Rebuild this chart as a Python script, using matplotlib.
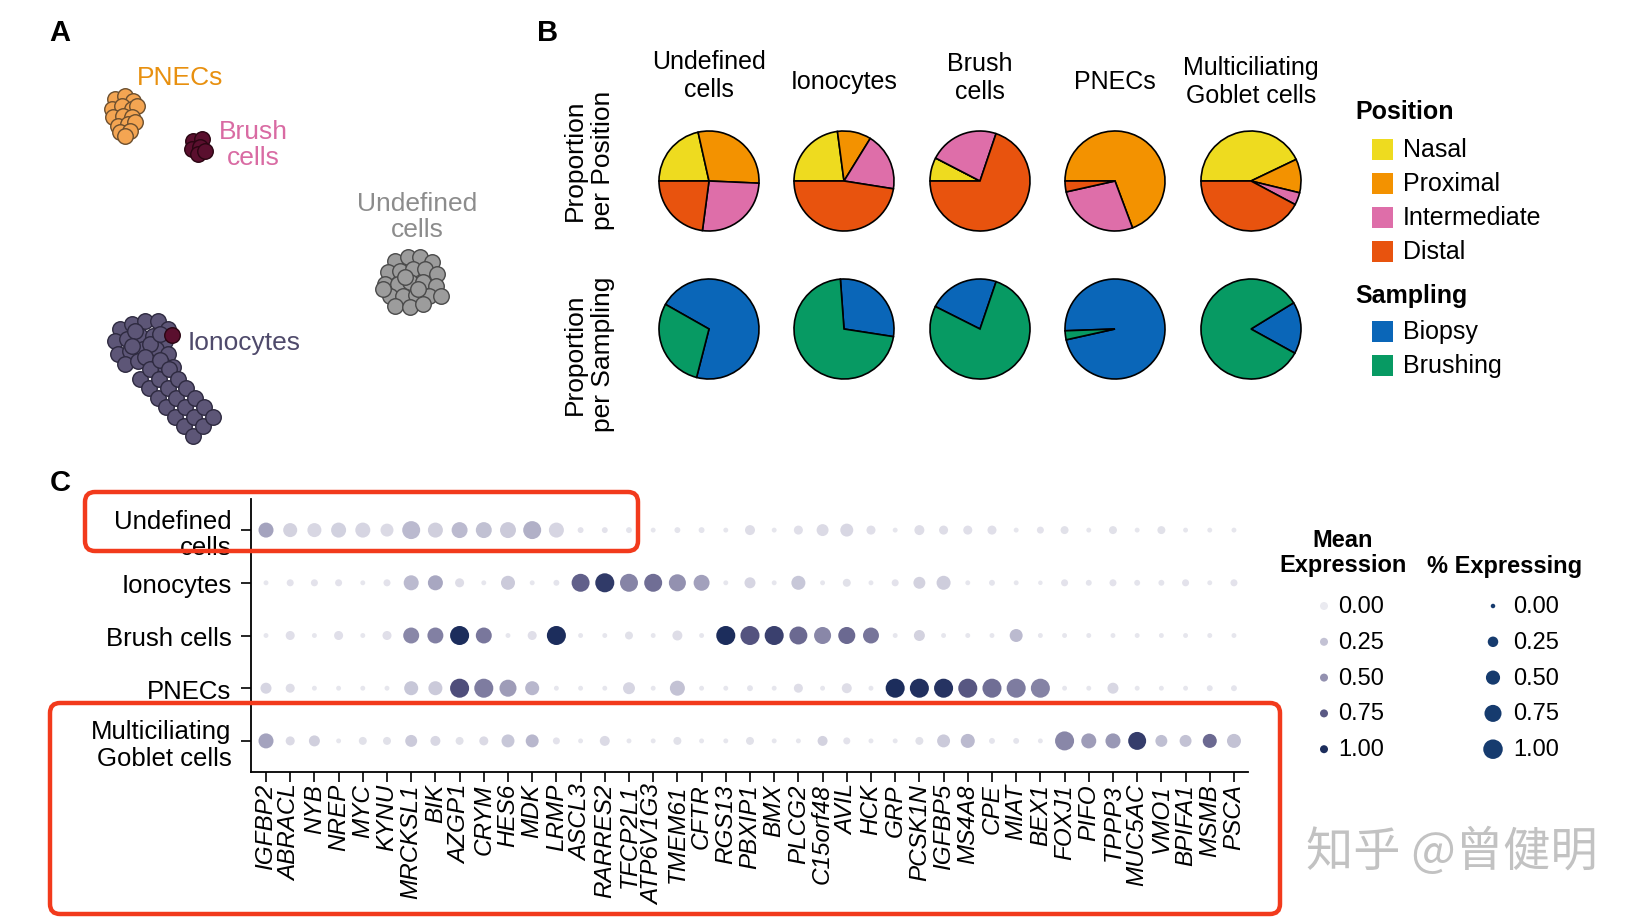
import numpy as np
import matplotlib
matplotlib.use("Agg")
import matplotlib.pyplot as plt
from matplotlib.colors import LinearSegmentedColormap, Normalize
from matplotlib.patches import FancyBboxPatch, Rectangle

plt.rcParams['font.family'] = ['Liberation Sans', 'DejaVu Sans']

W, H = 1648, 920

# ---------------- Panel A data (embedding coordinates) ----------------
pnec_x = [25, 35, 43, 22, 32, 42, 47, 23, 33, 42, 28, 38, 45, 30, 40, 35]
pnec_y = [340, 343, 338, 330, 333, 330, 333, 322, 323, 322, 313, 315, 317, 307, 308, 303]
brush_x = [103, 112, 102, 110, 108, 115, 82]
brush_y = [298, 300, 290, 292, 285, 288, 104]
undef_x = [305, 318, 330, 342, 298, 310, 323, 335, 347, 295, 308, 320, 333, 346, 300, 313, 326, 339,
           305, 320, 333, 293, 351, 315, 328]
undef_y = [178, 182, 182, 177, 167, 168, 170, 170, 165, 155, 155, 157, 157, 153, 143, 143, 144, 143,
           133, 132, 135, 150, 143, 162, 150]
iono_x = [30, 42, 55, 68, 78, 25, 37, 50, 63, 75, 28, 40, 53, 66, 78, 35, 48, 60, 72, 83,
          45, 60, 70, 55, 42,
          50, 60, 70, 59, 69, 79, 68, 78, 88, 76, 86, 96, 85, 95, 105, 94, 104, 114, 103, 113, 123]
iono_y = [110, 115, 118, 118, 110, 98, 100, 103, 103, 98, 85, 88, 90, 90, 85, 75, 78, 77, 75, 72,
          108, 95, 105, 82, 93,
          60, 70, 79, 51, 60, 70, 41, 51, 60, 32, 41, 51, 22, 32, 41, 13, 22, 32, 3, 13, 22]

# ---------------- Panel B data ----------------
cell_types = ["Undefined\ncells", "Ionocytes", "Brush\ncells", "PNECs", "Multiciliating\nGoblet cells"]
positions = ["Nasal", "Proximal", "Intermediate", "Distal"]
position_pct = [
    [21.5, 29.2, 26.4, 22.9],
    [22.9, 10.9, 18.7, 47.5],
    [7.6, 0.0, 22.6, 69.8],
    [0.0, 69.3, 27.2, 3.5],
    [42.9, 10.9, 4.0, 42.2],
]
samplings = ["Biopsy", "Brushing"]
biopsy_pct = [70.8, 28.6, 22.8, 97.1, 16.8]
biopsy_start_deg = [-104.4, -8.8, 71.2, -167.5, -28.9]

pos_colors = ['#EEDB1F', '#F39200', '#DE6EA9', '#E8530E']
samp_colors = ['#0A66B8', '#079A63']

# ---------------- Panel C data ----------------
row_labels = ["Undefined\ncells", "Ionocytes", "Brush cells", "PNECs", "Multiciliating\nGoblet cells"]
genes = ["IGFBP2", "ABRACL", "NYB", "NREP", "MYC", "KYNU", "MRCKSL1", "BIK", "AZGP1", "CRYM",
         "HES6", "MDK", "LRMP", "ASCL3", "RARRES2", "TFCP2L1", "ATP6V1G3", "TMEM61", "CFTR",
         "RGS13", "PBXIP1", "BMX", "PLCG2", "C15orf48", "AVIL", "HCK", "GRP", "PCSK1N", "IGFBP5",
         "MS4A8", "CPE", "MIAT", "BEX1", "FOXJ1", "PIFO", "TPPP3", "MUC5AC", "VMO1", "BPIFA1",
         "MSMB", "PSCA"]

pct_undef = [0.57, 0.49, 0.49, 0.57, 0.57, 0.41, 0.84, 0.57, 0.65, 0.65, 0.65, 0.84, 0.57, 0.04, 0.04,
             0.04, 0.01, 0.04, 0.04, 0.01, 0.22, 0.01, 0.17, 0.34, 0.41, 0.17, 0.01, 0.22, 0.17, 0.17,
             0.17, 0.01, 0.08, 0.12, 0.01, 0.12, 0.01, 0.12, 0.01, 0.01, 0.01]
pct_iono = [0.01, 0.08, 0.08, 0.08, 0.01, 0.08, 0.57, 0.57, 0.17, 0.01, 0.49, 0.01, 0.04, 0.84, 0.95,
            0.84, 0.84, 0.75, 0.65, 0.01, 0.28, 0.01, 0.49, 0.01, 0.12, 0.01, 0.08, 0.34, 0.49, 0.01,
            0.04, 0.01, 0.0, 0.08, 0.04, 0.08, 0.04, 0.04, 0.08, 0.01, 0.08]
pct_brush = [0.01, 0.17, 0.01, 0.17, 0.01, 0.17, 0.65, 0.65, 0.95, 0.65, 0.01, 0.17, 0.95, 0.01, 0.01,
             0.12, 0.01, 0.22, 0.01, 0.95, 0.95, 0.95, 0.84, 0.75, 0.75, 0.65, 0.01, 0.28, 0.01, 0.01,
             0.01, 0.41, 0.01, 0.01, 0.01, 0.01, 0.01, 0.01, 0.01, 0.01, 0.01]
pct_pnec = [0.28, 0.17, 0.01, 0.01, 0.01, 0.01, 0.49, 0.49, 0.95, 0.95, 0.75, 0.49, 0.01, 0.01, 0.01,
            0.34, 0.01, 0.57, 0.01, 0.01, 0.04, 0.01, 0.17, 0.01, 0.22, 0.01, 0.95, 0.95, 0.95, 0.95,
            0.95, 0.95, 0.95, 0.01, 0.01, 0.28, 0.01, 0.01, 0.01, 0.04, 0.04]
pct_multi = [0.57, 0.17, 0.28, 0.01, 0.12, 0.12, 0.34, 0.22, 0.12, 0.17, 0.41, 0.41, 0.08, 0.01, 0.22,
             0.01, 0.01, 0.12, 0.01, 0.01, 0.12, 0.01, 0.01, 0.22, 0.08, 0.01, 0.01, 0.12, 0.41, 0.49,
             0.04, 0.04, 0.01, 0.95, 0.57, 0.57, 0.84, 0.34, 0.34, 0.49, 0.49]

expr_undef = [0.42, 0.15, 0.12, 0.16, 0.13, 0.10, 0.30, 0.17, 0.30, 0.26, 0.20, 0.36, 0.13, 0.05, 0.05,
              0.04, 0.03, 0.04, 0.04, 0.03, 0.08, 0.03, 0.07, 0.10, 0.12, 0.07, 0.03, 0.08, 0.08, 0.07,
              0.07, 0.03, 0.05, 0.06, 0.03, 0.06, 0.03, 0.06, 0.03, 0.03, 0.03]
expr_iono = [0.03, 0.05, 0.05, 0.05, 0.03, 0.05, 0.30, 0.40, 0.08, 0.03, 0.20, 0.03, 0.04, 0.72, 0.92,
             0.56, 0.66, 0.50, 0.43, 0.03, 0.13, 0.03, 0.22, 0.03, 0.06, 0.03, 0.05, 0.15, 0.18, 0.03,
             0.04, 0.03, 0.02, 0.05, 0.04, 0.05, 0.04, 0.04, 0.05, 0.03, 0.05]
expr_brush = [0.03, 0.07, 0.03, 0.07, 0.03, 0.07, 0.55, 0.58, 1.00, 0.62, 0.03, 0.07, 1.00, 0.03, 0.03,
              0.06, 0.03, 0.08, 0.03, 1.00, 0.78, 0.88, 0.68, 0.55, 0.68, 0.63, 0.03, 0.15, 0.03, 0.03,
              0.03, 0.30, 0.03, 0.03, 0.03, 0.03, 0.03, 0.03, 0.03, 0.03, 0.03]
expr_pnec = [0.13, 0.08, 0.03, 0.03, 0.03, 0.03, 0.22, 0.20, 0.80, 0.60, 0.45, 0.32, 0.03, 0.03, 0.03,
             0.13, 0.03, 0.25, 0.03, 0.03, 0.04, 0.03, 0.08, 0.03, 0.08, 0.03, 1.00, 0.98, 0.96, 0.76,
             0.66, 0.60, 0.57, 0.03, 0.03, 0.12, 0.03, 0.03, 0.03, 0.04, 0.04]
expr_multi = [0.42, 0.10, 0.17, 0.03, 0.06, 0.06, 0.20, 0.12, 0.06, 0.10, 0.22, 0.32, 0.05, 0.03, 0.10,
              0.03, 0.03, 0.06, 0.03, 0.03, 0.06, 0.03, 0.03, 0.15, 0.05, 0.03, 0.03, 0.06, 0.20, 0.30,
              0.04, 0.04, 0.03, 0.55, 0.45, 0.47, 0.90, 0.27, 0.25, 0.68, 0.25]

legend_values = [0.00, 0.25, 0.50, 0.75, 1.00]

pct_rows = [pct_undef, pct_iono, pct_brush, pct_pnec, pct_multi]
expr_rows = [expr_undef, expr_iono, expr_brush, expr_pnec, expr_multi]

# ---------------- helpers ----------------
fig = plt.figure(figsize=(W / 100, H / 100), dpi=100)


def px_axes(x0, y0, x1, y1, **kw):
    return fig.add_axes([x0 / W, 1 - y1 / H, (x1 - x0) / W, (y1 - y0) / H], **kw)


cmap = LinearSegmentedColormap.from_list(
    'expr', [(0, '#EAEAF0'), (0.35, '#B3B2C9'), (0.6, '#7E7CA0'), (0.8, '#4F4E7B'), (1, '#1C2D5C')])
norm = Normalize(0, 1)


def pct_to_s(p):
    d = np.sqrt(4.5 ** 2 + (19.5 ** 2 - 4.5 ** 2) * np.asarray(p, float))
    return (d * 0.72) ** 2


# ---------------- Panel A ----------------
axA = px_axes(90, 80, 470, 440)
axA.set_xlim(0, 380)
axA.set_ylim(0, 360)
axA.axis('off')
pt = 125
axA.scatter(undef_x, undef_y, s=pt, c='#9C9C9C', edgecolors='#4A4A4A', linewidths=1.0, clip_on=False)
axA.scatter(iono_x, iono_y, s=pt, c='#5D5677', edgecolors='#2E2A40', linewidths=1.0, clip_on=False)
axA.scatter(pnec_x, pnec_y, s=pt, c='#F4A552', edgecolors='#6B4E2E', linewidths=1.0, clip_on=False)
axA.scatter(brush_x, brush_y, s=pt, c='#5A0F2E', edgecolors='#2A0512', linewidths=1.0, clip_on=False)

# ---------------- Panel B ----------------
pie_cx = [709, 844, 980, 1115, 1251]
for i in range(5):
    cx = pie_cx[i]
    for cy, kind in [(182, 'pos'), (330, 'samp')]:
        ax = px_axes(cx - 52, cy - 52, cx + 52, cy + 52)
        if kind == 'pos':
            ax.pie(position_pct[i], colors=pos_colors, startangle=180, counterclock=False,
                   wedgeprops=dict(edgecolor='black', linewidth=1.2))
        else:
            ax.pie([biopsy_pct[i], 100 - biopsy_pct[i]], colors=samp_colors,
                   startangle=biopsy_start_deg[i], counterclock=True,
                   wedgeprops=dict(edgecolor='black', linewidth=1.2))
        ax.set_xlim(-1.04, 1.04)
        ax.set_ylim(-1.04, 1.04)
        ax.set_aspect('equal')
        ax.axis('off')

# ---------------- Panel C ----------------
axC = px_axes(251, 500, 1248, 773)
xs = np.arange(len(genes))
for r in range(len(row_labels)):
    axC.scatter(xs, np.full(len(genes), r), s=pct_to_s(pct_rows[r]), c=expr_rows[r],
                cmap=cmap, norm=norm, edgecolors='none', clip_on=False, zorder=3)
axC.set_xlim(-0.62, 40.58)
axC.set_ylim(4.59, -0.59)
axC.set_yticks(range(len(row_labels)))
axC.set_yticklabels(row_labels, fontsize=18.5, linespacing=1.12)
axC.set_xticks(xs)
axC.set_xticklabels(genes, rotation=90, fontstyle='italic', fontsize=17.5, ha='center', va='top')
for s in ['top', 'right']:
    axC.spines[s].set_visible(False)
for s in ['left', 'bottom']:
    axC.spines[s].set_linewidth(1.3)
axC.tick_params(axis='y', length=7, width=1.2, pad=7)
axC.tick_params(axis='x', length=7, width=1.2, pad=1)

# ---------------- overlay: text, legends, annotations ----------------
ov = fig.add_axes([0, 0, 1, 1], facecolor='none')
ov.set_xlim(0, W)
ov.set_ylim(H, 0)
ov.axis('off')
ov.set_zorder(10)

for lab, (x, y) in zip("ABC", [(60, 33), (548, 33), (60, 483)]):
    ov.text(x, y, lab, fontsize=21, fontweight='bold', ha='center', va='center')

# panel A labels
ov.text(180, 78, "PNECs", color='#E8900F', fontsize=19, ha='center', va='center')
ov.text(253, 145, "Brush\ncells", color='#D96BA3', fontsize=19, ha='center', va='center', linespacing=1.15)
ov.text(417, 217, "Undefined\ncells", color='#8C8C8C', fontsize=19, ha='center', va='center', linespacing=1.15)
ov.text(188, 343, "Ionocytes", color='#4F4A6B', fontsize=19, ha='left', va='center')

# panel B titles
title_y = [76, 82, 78, 82, 82]
for i in range(5):
    ov.text(pie_cx[i], title_y[i], cell_types[i], fontsize=18, ha='center', va='center', linespacing=1.2)
ov.text(589, 160, "Proportion\nper Position", fontsize=19, rotation=90, ha='center', va='center',
        linespacing=1.25)
ov.text(589, 354, "Proportion\nper Sampling", fontsize=19, rotation=90, ha='center', va='center',
        linespacing=1.25)

# panel B legend
ov.text(1355, 112, "Position", fontsize=18, fontweight='bold', ha='left', va='center')
for k, name in enumerate(positions):
    yy = 150 + 34 * k
    ov.add_patch(Rectangle((1372, yy - 10.5), 21, 21, facecolor=pos_colors[k], edgecolor='none'))
    ov.text(1403, yy, name, fontsize=18, ha='left', va='center')
ov.text(1355, 296, "Sampling", fontsize=18, fontweight='bold', ha='left', va='center')
for k, name in enumerate(samplings):
    yy = 332 + 34 * k
    ov.add_patch(Rectangle((1372, yy - 10.5), 21, 21, facecolor=samp_colors[k], edgecolor='none'))
    ov.text(1403, yy, name, fontsize=18, ha='left', va='center')

# panel C legend
ov.text(1343, 553, "Mean\nExpression", fontsize=17, fontweight='bold', ha='center', va='center',
        linespacing=1.1)
ov.text(1505, 567, "% Expressing", fontsize=17, fontweight='bold', ha='center', va='center')
leg_y = [607 + 35.8 * k for k in range(len(legend_values))]
ov.scatter([1324] * len(legend_values), leg_y, s=(8 * 0.72) ** 2, c=legend_values, cmap=cmap, norm=norm,
           edgecolors='none')
ov.scatter([1493] * len(legend_values), leg_y, s=pct_to_s(legend_values), c='#163B6E', edgecolors='none')
for v, yy in zip(legend_values, leg_y):
    ov.text(1338, yy, f"{v:.2f}", fontsize=17, ha='left', va='center')
    ov.text(1513, yy, f"{v:.2f}", fontsize=17, ha='left', va='center')

# red annotation boxes
red = '#F23A1C'
for (x0, y0, x1, y1) in [(85, 493, 638, 552), (50, 704, 1280, 915)]:
    ov.add_patch(FancyBboxPatch((x0 + 10, y0 + 10), x1 - x0 - 20, y1 - y0 - 20,
                                boxstyle="round,pad=10,rounding_size=10",
                                facecolor='none', edgecolor=red, linewidth=3.2))

# watermark
ov.text(1452, 853, "知乎 @曾健明", fontsize=34, color='#C2C2C2', ha='center', va='center',
        family=['Noto Sans CJK SC', 'DejaVu Sans'])

fig.savefig("out.png", dpi=100)
